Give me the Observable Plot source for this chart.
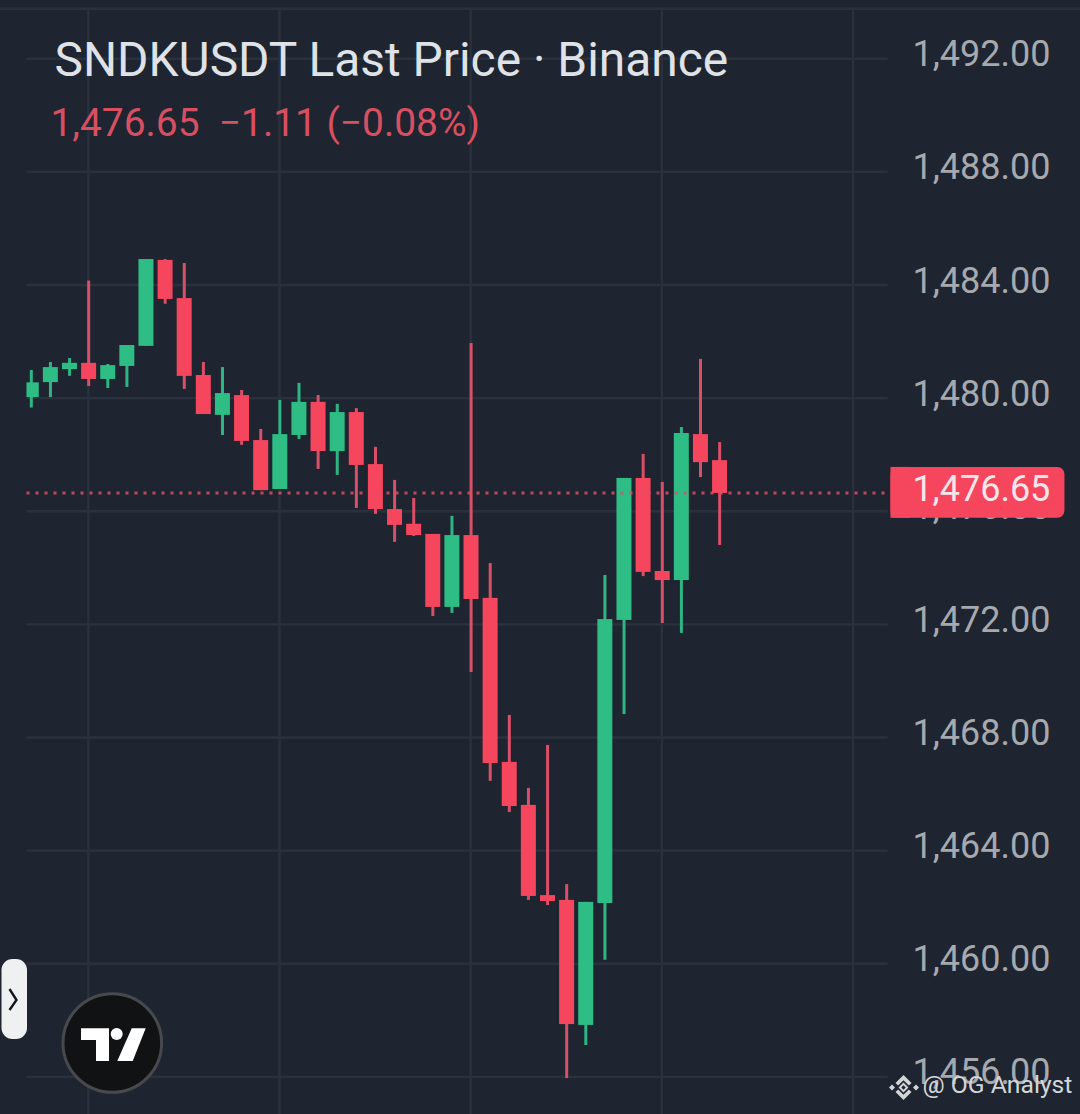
<!DOCTYPE html>
<html>
<head>
<meta charset="utf-8">
<script src="https://cdn.jsdelivr.net/npm/d3@7"></script>
<script src="https://cdn.jsdelivr.net/npm/@observablehq/plot@0.6"></script>
<style>
html,body{margin:0;padding:0;background:#1f2530;}
#wrap{position:relative;width:1080px;height:1114px;overflow:hidden;font-family:Roboto,sans-serif;}
#wrap svg{display:block;}
#deco{position:absolute;left:0;top:0;}
</style>
</head>
<body>
<div id="wrap"></div>
<script>
const opens  = [1480.02,1480.55,1481.01,1481.23,1480.66,1481.12,1481.83,1484.87,1483.52,1480.80,1479.39,1480.09,1478.50,1476.77,1478.68,1479.85,1478.11,1479.49,1477.65,1476.06,1475.54,1475.18,1472.60,1475.14,1472.92,1467.12,1465.60,1462.41,1462.24,1457.82,1462.13,1472.14,1477.16,1473.87,1473.55,1478.71,1477.79];
const highs  = [1480.98,1481.26,1481.40,1484.14,1481.19,1481.86,1484.90,1484.90,1484.76,1481.26,1481.08,1480.27,1478.89,1479.92,1480.52,1480.09,1479.78,1479.63,1478.26,1477.09,1476.45,1475.18,1475.82,1481.93,1474.15,1468.78,1466.20,1467.72,1462.80,1462.17,1473.73,1477.16,1478.01,1477.02,1478.96,1481.37,1478.43];
const lows   = [1479.65,1480.02,1480.77,1480.41,1480.34,1480.38,1481.83,1483.32,1480.31,1479.42,1478.68,1478.33,1476.73,1476.77,1478.54,1477.48,1477.27,1476.10,1475.89,1474.90,1475.11,1472.28,1472.39,1470.30,1466.45,1465.35,1462.24,1462.06,1455.94,1457.11,1460.12,1468.81,1473.69,1472.03,1471.68,1477.19,1474.79];
const closes = [1480.54,1481.08,1481.23,1480.66,1481.15,1481.86,1484.90,1483.49,1480.77,1479.42,1480.16,1478.47,1476.73,1478.71,1479.85,1478.11,1479.49,1477.62,1476.06,1475.50,1475.14,1472.60,1475.14,1472.88,1467.08,1465.56,1462.38,1462.20,1457.85,1462.17,1472.17,1477.16,1473.84,1473.55,1478.75,1477.72,1476.63];
const priceTicks = [1492,1488,1484,1480,1476,1472,1468,1464,1460,1456];
const timeGrid = [3,13,23,33,43];
const lastPrice = 1476.65;
const titleText = "SNDKUSDT Last Price · Binance";
const subText = "1,476.65  \u22121.11 (\u22120.08%)";
const topBorder = 1493.77;

const UP = "#2ebd85", DOWN = "#f6465d";
const GRID = "#2b313c";
const xLeft = -0.206, xRight = 44.83;
const candles = opens.map((o,i)=>({
  i, wick:i+0.02, open:o, high:highs[i], low:lows[i], close:closes[i],
  up: closes[i] >= o,
  left: Math.max(i-0.35,xLeft), right: i+0.434
}));

const chart = Plot.plot({
  width:1080, height:1114,
  marginTop:0, marginRight:0, marginBottom:0, marginLeft:0,
  style:{background:"#1f2530", fontFamily:"Roboto, sans-serif"},
  x:{domain:[-1.592,54.893], range:[0,1080], axis:null},
  y:{domain:[1454.67,1494.06], range:[1114,0], axis:null},
  marks:[
    Plot.ruleY(priceTicks,{x1:xLeft,x2:xRight,stroke:GRID,strokeWidth:2.4}),
    Plot.ruleX(timeGrid,{y1:topBorder,y2:1454.67,stroke:GRID,strokeWidth:2.4}),
    Plot.ruleY([topBorder],{stroke:GRID,strokeWidth:2.4}),
    Plot.axisY({anchor:"right",ticks:priceTicks,tickSize:0,tickPadding:-168,dy:-4,
      tickFormat:d3.format(",.2f"),fontSize:36,fill:"#a6a9ae",label:null}),
    Plot.ruleX(candles,{x:"wick",y1:"low",y2:"high",strokeWidth:3,
      stroke:d=>d.up?"#2fb584":"#d94f67"}),
    Plot.rect(candles,{x1:"left",x2:"right",y1:"open",y2:"close",
      fill:d=>d.up?UP:DOWN}),
    Plot.ruleY([lastPrice],{x1:xLeft,x2:xRight,stroke:"#d9506a",strokeWidth:3,strokeDasharray:"3 6",strokeOpacity:0.85}),
    Plot.text([titleText],{frameAnchor:"top-left",dx:54,dy:41,fontSize:47.9,fill:"#dfe2e7",textAnchor:"start",lineAnchor:"top"}),
    Plot.text([subText],{frameAnchor:"top-left",dx:50,dy:108,fontSize:38.9,fill:"#d94f62",textAnchor:"start",lineAnchor:"top"}),
    Plot.rect([lastPrice],{x1:44.98,x2:54.08,y1:d=>d+0.9,y2:d=>d-0.9,fill:DOWN,rx:7}),
    Plot.rect([lastPrice],{x1:44.98,x2:46,y1:d=>d+0.9,y2:d=>d-0.9,fill:DOWN}),
    Plot.text([lastPrice],{y:d=>d,x:46.1,dy:-3,text:d3.format(",.2f"),fontSize:36,fill:"#f5e6e9",textAnchor:"start"}),
    Plot.text(["@ OG Analyst"],{frameAnchor:"top-left",dx:922,dy:1075,fontSize:24.7,fill:"#d3d5d9",textAnchor:"start",lineAnchor:"top"})
  ]
});
document.getElementById("wrap").appendChild(chart);

document.getElementById("wrap").insertAdjacentHTML("beforeend",`
<svg id="deco" width="1080" height="1114" viewBox="0 0 1080 1114" style="background:none;pointer-events:none">
  <rect x="1.5" y="959" width="25.5" height="80" rx="11" fill="#eff0f2"/>
  <path d="M9.5 989 L16.5 1000 L9.5 1010" fill="none" stroke="#15171b" stroke-width="2.4"/>
  <circle cx="112.3" cy="1043" r="49.3" fill="#111214" stroke="#47494d" stroke-width="3"/>
  <path d="M81 1028.3 H109 V1061 H96 V1040 H81 Z" fill="#fff"/>
  <circle cx="116.7" cy="1034" r="6" fill="#fff"/>
  <path d="M131.7 1028.3 H145.7 L132.7 1061 H117.3 Z" fill="#fff"/>
  <g fill="#d3d5d9">
    <path d="M892 1084.5 l3 3 -3 3 -3 -3 Z M916 1084.5 l3 3 -3 3 -3 -3 Z"/>
    <path d="M903.5 1082.5 l5 5 -5 5 -5 -5 Z M903.5 1085.3 l-2.2 2.2 2.2 2.2 2.2 -2.2 Z" fill-rule="evenodd"/>
    <path d="M903.5 1075 l8 8 -2.6 2.6 -5.4 -5.4 -5.4 5.4 -2.6 -2.6 Z"/>
    <path d="M903.5 1100 l8 -8 -2.6 -2.6 -5.4 5.4 -5.4 -5.4 -2.6 2.6 Z"/>
  </g>
</svg>`);
</script>
</body>
</html>
